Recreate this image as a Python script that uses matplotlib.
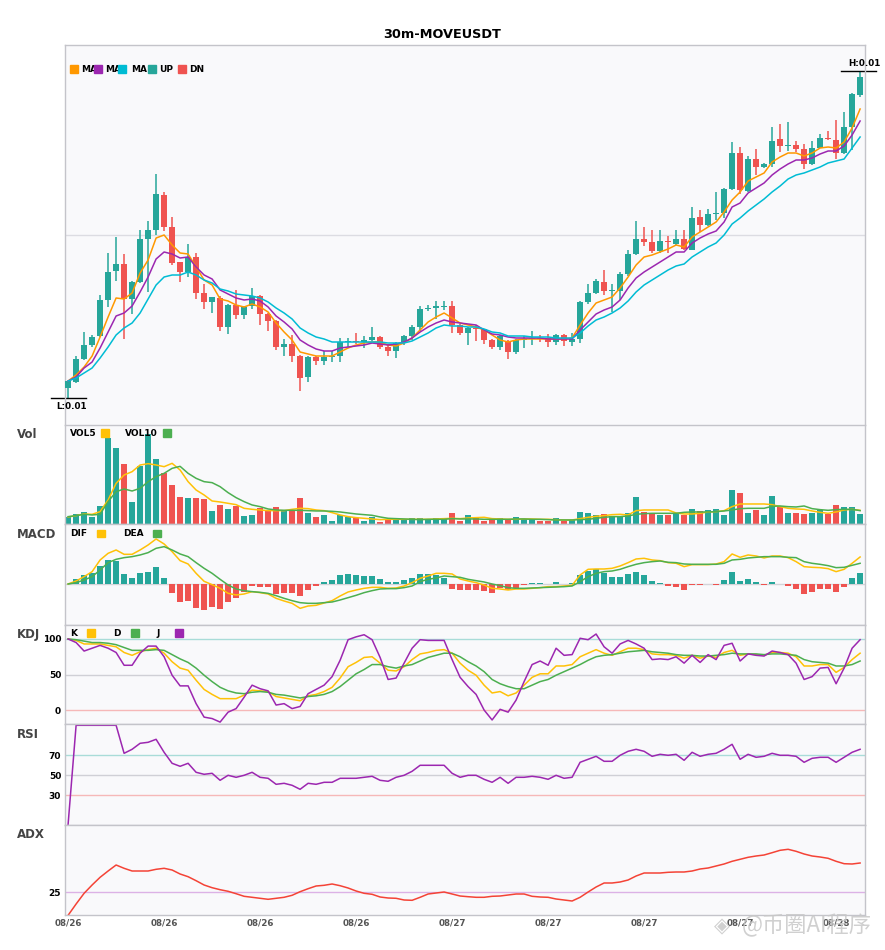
import numpy as np
import matplotlib.pyplot as plt
from matplotlib.patches import Rectangle

# prices in 1e-5 USDT
opens = [1010, 1016, 1039, 1053, 1062, 1098, 1127, 1134, 1099, 1116,
         1159, 1168, 1203, 1171, 1136, 1126, 1141, 1105, 1096, 1100,
         1071, 1093, 1083, 1092, 1102, 1084, 1077, 1051, 1054, 1042,
         1021, 1041, 1037, 1041, 1042, 1056, 1057, 1056, 1058, 1061,
         1051, 1047, 1055, 1062, 1071, 1089, 1090, 1091, 1092, 1073,
         1065, 1070, 1069, 1058, 1051, 1057, 1046, 1058, 1059, 1060,
         1060, 1056, 1063, 1056, 1059, 1096, 1105, 1116, 1107, 1107,
         1124, 1144, 1159, 1156, 1147, 1157, 1154, 1159, 1148, 1181,
         1173, 1184, 1185, 1209, 1245, 1207, 1239, 1231, 1234, 1259,
         1252, 1253, 1249, 1234, 1250, 1260, 1258, 1245, 1271, 1303]
highs = [1017, 1042, 1066, 1063, 1103, 1145, 1161, 1144, 1117, 1168,
         1177, 1224, 1206, 1181, 1136, 1154, 1145, 1114, 1101, 1102,
         1094, 1108, 1092, 1110, 1103, 1085, 1078, 1059, 1063, 1043,
         1042, 1042, 1047, 1047, 1060, 1060, 1065, 1062, 1071, 1062,
         1054, 1056, 1063, 1073, 1092, 1093, 1097, 1097, 1097, 1074,
         1071, 1073, 1069, 1059, 1063, 1058, 1059, 1062, 1067, 1063,
         1064, 1064, 1064, 1065, 1097, 1114, 1119, 1128, 1114, 1126,
         1148, 1177, 1171, 1168, 1168, 1162, 1168, 1168, 1191, 1188,
         1189, 1206, 1210, 1256, 1251, 1242, 1249, 1235, 1271, 1274,
         1276, 1257, 1254, 1257, 1264, 1267, 1278, 1286, 1305, 1327]
lows = [1000, 1015, 1038, 1051, 1061, 1091, 1117, 1059, 1084, 1115,
        1106, 1163, 1167, 1133, 1116, 1121, 1099, 1089, 1085, 1067,
        1064, 1079, 1079, 1089, 1073, 1067, 1048, 1042, 1036, 1007,
        1016, 1033, 1033, 1036, 1036, 1051, 1054, 1050, 1057, 1049,
        1042, 1040, 1053, 1058, 1067, 1087, 1079, 1088, 1065, 1063,
        1053, 1057, 1054, 1049, 1048, 1039, 1044, 1050, 1053, 1056,
        1051, 1053, 1052, 1052, 1055, 1094, 1104, 1103, 1086, 1098,
        1122, 1143, 1152, 1145, 1145, 1145, 1153, 1148, 1148, 1166,
        1172, 1178, 1180, 1208, 1204, 1206, 1223, 1230, 1231, 1246,
        1247, 1246, 1229, 1233, 1250, 1258, 1239, 1244, 1248, 1301]
closes = [1017, 1039, 1053, 1061, 1098, 1126, 1134, 1099, 1116, 1159,
          1168, 1204, 1171, 1135, 1126, 1141, 1105, 1096, 1101, 1071,
          1093, 1083, 1091, 1102, 1084, 1077, 1051, 1054, 1042, 1020,
          1041, 1037, 1041, 1042, 1056, 1057, 1056, 1058, 1061, 1051,
          1047, 1055, 1062, 1071, 1089, 1090, 1092, 1092, 1073, 1065,
          1070, 1069, 1058, 1051, 1062, 1046, 1058, 1059, 1060, 1059,
          1056, 1063, 1057, 1059, 1096, 1105, 1117, 1107, 1108, 1124,
          1144, 1159, 1156, 1147, 1157, 1156, 1159, 1149, 1180, 1173,
          1184, 1185, 1209, 1245, 1208, 1239, 1231, 1234, 1257, 1252,
          1253, 1249, 1234, 1250, 1260, 1259, 1245, 1271, 1304, 1321]

ma_fast = [1017, 1023, 1031, 1042, 1061, 1081, 1100, 1099, 1105, 1125,
           1138, 1160, 1163, 1153, 1145, 1144, 1131, 1118, 1113, 1099,
           1097, 1093, 1091, 1094, 1091, 1086, 1075, 1066, 1058, 1046,
           1044, 1042, 1042, 1042, 1046, 1050, 1053, 1055, 1056, 1056,
           1053, 1052, 1055, 1060, 1068, 1076, 1081, 1085, 1080, 1075,
           1073, 1071, 1068, 1063, 1058, 1056, 1058, 1059, 1059, 1059,
           1059, 1059, 1059, 1060, 1073, 1085, 1095, 1098, 1101, 1110,
           1121, 1133, 1141, 1143, 1146, 1149, 1153, 1151, 1161, 1166,
           1171, 1176, 1186, 1198, 1206, 1217, 1221, 1225, 1236, 1241,
           1245, 1245, 1242, 1245, 1250, 1251, 1250, 1256, 1270, 1289]
ma_mid = [1017, 1021, 1030, 1036, 1050, 1066, 1082, 1085, 1092, 1106,
          1121, 1139, 1146, 1144, 1140, 1141, 1131, 1123, 1119, 1108,
          1104, 1100, 1098, 1099, 1097, 1091, 1082, 1076, 1069, 1058,
          1053, 1049, 1047, 1047, 1050, 1051, 1052, 1053, 1055, 1054,
          1053, 1054, 1056, 1060, 1066, 1071, 1075, 1078, 1076, 1075,
          1074, 1073, 1068, 1064, 1063, 1061, 1060, 1060, 1060, 1060,
          1059, 1059, 1059, 1059, 1068, 1076, 1084, 1088, 1091, 1098,
          1110, 1120, 1126, 1131, 1136, 1141, 1146, 1146, 1155, 1160,
          1164, 1167, 1176, 1191, 1195, 1205, 1210, 1215, 1223, 1229,
          1234, 1238, 1238, 1240, 1244, 1247, 1247, 1252, 1263, 1277]
ma_slow = [1017, 1020, 1025, 1030, 1040, 1051, 1063, 1070, 1075, 1085,
           1099, 1113, 1121, 1123, 1123, 1126, 1123, 1118, 1115, 1109,
           1107, 1104, 1103, 1102, 1100, 1096, 1090, 1085, 1079, 1070,
           1065, 1061, 1059, 1056, 1056, 1056, 1056, 1056, 1056, 1056,
           1055, 1055, 1055, 1057, 1061, 1065, 1070, 1073, 1072, 1072,
           1071, 1071, 1069, 1066, 1065, 1062, 1062, 1062, 1061, 1061,
           1061, 1060, 1060, 1060, 1065, 1072, 1078, 1081, 1085, 1090,
           1097, 1106, 1113, 1118, 1123, 1128, 1132, 1134, 1141, 1146,
           1151, 1155, 1163, 1174, 1180, 1187, 1193, 1199, 1206, 1212,
           1219, 1223, 1225, 1228, 1231, 1235, 1237, 1239, 1250, 1261]

volume = [22, 30, 37, 22, 55, 259, 229, 181, 67, 175,
          271, 196, 154, 118, 82, 79, 79, 76, 40, 58,
          46, 55, 25, 28, 49, 43, 52, 43, 43, 79,
          34, 22, 28, 10, 28, 22, 19, 10, 22, 7,
          16, 13, 13, 19, 19, 13, 19, 18, 34, 10,
          28, 19, 10, 16, 19, 16, 22, 16, 16, 10,
          10, 19, 10, 13, 37, 34, 28, 31, 25, 25,
          34, 82, 37, 34, 28, 28, 31, 28, 46, 40,
          43, 46, 28, 103, 94, 34, 43, 28, 85, 52,
          34, 34, 31, 34, 43, 31, 58, 52, 52, 31]
vol5 = [22, 26, 31, 30, 38, 73, 123, 148, 158, 178,
        182, 178, 173, 183, 163, 128, 103, 88, 70, 67,
        63, 59, 48, 45, 43, 41, 41, 41, 45, 48,
        47, 43, 41, 35, 28, 23, 20, 18, 16, 14,
        15, 15, 15, 15, 15, 15, 16, 17, 18, 17,
        19, 20, 21, 17, 16, 15, 15, 16, 16, 15,
        15, 14, 13, 13, 17, 21, 24, 26, 29, 30,
        28, 41, 43, 43, 43, 43, 34, 31, 31, 33,
        37, 38, 41, 53, 61, 61, 61, 61, 59, 53,
        48, 46, 45, 40, 36, 33, 37, 43, 45, 42]
vol10 = [23, 26, 30, 28, 30, 68, 98, 106, 100, 108,
         128, 143, 153, 168, 174, 153, 138, 128, 125, 113,
         95, 80, 68, 58, 53, 46, 43, 42, 42, 42,
         41, 40, 40, 39, 37, 34, 31, 29, 27, 22,
         18, 17, 16, 15, 14, 15, 15, 15, 17, 16,
         16, 16, 15, 15, 15, 15, 16, 16, 15, 15,
         14, 13, 13, 13, 14, 15, 18, 21, 23, 23,
         25, 30, 32, 33, 33, 33, 33, 36, 37, 37,
         37, 38, 40, 43, 47, 48, 48, 48, 54, 55,
         53, 52, 55, 47, 44, 42, 44, 45, 45, 41]

macd_hist = [0, 15, 27, 33, 54, 72, 69, 30, 18, 33,
             36, 51, 18, -27, -54, -51, -72, -78, -69, -75,
             -54, -42, -24, -6, -9, -9, -30, -27, -27, -36,
             -18, -6, 6, 12, 27, 30, 27, 24, 24, 15,
             6, 6, 12, 18, 30, 30, 27, 18, -15, -18,
             -18, -18, -21, -27, -12, -18, -12, -3, 3, 3,
             1, 6, -1, 3, 27, 39, 45, 33, 21, 21,
             30, 36, 27, 9, 3, -6, -9, -18, -3, -3,
             1, -3, 12, 36, 9, 15, 6, -3, 6, 1,
             -6, -15, -30, -24, -15, -15, -24, -9, 18, 33]
dif = [0, 9, 22, 37, 72, 92, 102, 89, 89, 102,
       117, 135, 120, 97, 70, 60, 32, 8, -2, -13,
       -28, -33, -30, -23, -26, -30, -43, -51, -58, -73,
       -66, -64, -57, -50, -36, -24, -18, -13, -10, -10,
       -13, -12, -6, 4, 17, 24, 32, 32, 30, 15,
       9, 4, -3, -13, -15, -18, -15, -15, -13, -11,
       -8, -8, -6, -4, 27, 44, 45, 45, 47, 54,
       64, 75, 77, 72, 70, 64, 62, 52, 58, 58,
       58, 60, 67, 90, 80, 87, 84, 78, 84, 84,
       79, 67, 52, 50, 49, 46, 37, 44, 62, 81]
dea = [0, 4, 12, 22, 42, 64, 74, 79, 82, 87,
       94, 107, 112, 102, 90, 82, 64, 47, 32, 14,
       -3, -15, -20, -23, -25, -28, -35, -43, -50, -56,
       -58, -58, -56, -54, -48, -41, -34, -26, -20, -15,
       -14, -14, -11, -6, 7, 14, 18, 24, 22, 20,
       14, 10, 6, 0, -5, -11, -13, -13, -12, -11,
       -10, -9, -8, -6, 7, 22, 32, 37, 39, 44,
       52, 59, 64, 67, 69, 65, 64, 60, 59, 59,
       59, 59, 62, 72, 74, 78, 80, 82, 82, 82,
       80, 79, 67, 62, 59, 55, 49, 50, 56, 62]

k_line = [100, 98, 93, 93, 93, 91, 89, 81, 77, 82,
          85, 87, 80, 68, 59, 56, 42, 29, 22, 16,
          16, 16, 21, 28, 27, 26, 19, 17, 15, 13,
          20, 22, 26, 32, 45, 61, 67, 74, 75, 66,
          56, 55, 61, 71, 79, 81, 84, 85, 80, 66,
          56, 49, 35, 24, 26, 20, 24, 35, 46, 51,
          51, 62, 62, 64, 75, 80, 85, 80, 77, 82,
          87, 87, 85, 79, 78, 78, 77, 73, 77, 73,
          76, 74, 81, 84, 77, 79, 78, 77, 81, 81,
          80, 75, 62, 62, 64, 64, 53, 60, 71, 80]
d_line = [100, 99, 97, 95, 95, 94, 92, 88, 84, 84,
          84, 85, 84, 78, 72, 67, 59, 49, 40, 32,
          27, 24, 23, 25, 26, 25, 22, 21, 19, 17,
          19, 20, 22, 26, 33, 42, 51, 57, 64, 64,
          61, 59, 62, 64, 69, 74, 77, 80, 80, 75,
          68, 62, 54, 43, 37, 33, 30, 30, 35, 40,
          43, 49, 54, 59, 64, 70, 75, 77, 78, 80,
          82, 83, 84, 82, 81, 80, 78, 77, 77, 76,
          76, 77, 78, 80, 79, 79, 79, 78, 79, 79,
          78, 77, 71, 68, 67, 66, 62, 62, 64, 69]
j_line = [100, 95, 83, 87, 91, 87, 81, 63, 63, 80,
          90, 90, 75, 49, 34, 34, 9, -10, -12, -17,
          -3, 2, 18, 35, 30, 27, 7, 9, 2, 5,
          23, 29, 35, 47, 70, 99, 103, 106, 99, 74,
          43, 45, 66, 87, 99, 98, 98, 98, 71, 46,
          33, 22, 0, -14, 1, -3, 14, 40, 64, 69,
          63, 87, 77, 78, 101, 99, 107, 89, 80, 93,
          98, 93, 87, 71, 72, 71, 75, 66, 77, 67,
          78, 71, 91, 94, 69, 79, 77, 76, 83, 81,
          78, 66, 43, 47, 59, 60, 37, 59, 87, 99]

rsi = [1, 100, 100, 100, 100, 100, 100, 72, 76, 82,
       83, 86, 73, 62, 59, 62, 53, 51, 52, 45,
       50, 48, 50, 53, 48, 47, 41, 42, 40, 36,
       42, 41, 43, 43, 47, 47, 47, 48, 49, 45,
       44, 48, 50, 54, 60, 60, 60, 60, 52, 48,
       50, 50, 46, 43, 48, 42, 48, 48, 49, 48,
       46, 50, 47, 48, 63, 66, 69, 64, 64, 70,
       74, 76, 74, 69, 71, 70, 71, 65, 73, 69,
       71, 72, 76, 81, 66, 71, 68, 69, 72, 70,
       70, 69, 63, 67, 68, 68, 63, 68, 73, 76]

adx = [1.7, 13, 23.7, 32, 39.7, 46, 52, 48.7, 46, 46,
       46, 47.7, 48.7, 47, 43, 40.3, 36.3, 32, 29.3, 27.3,
       25.7, 23.3, 20.7, 19.7, 18.7, 17.7, 18.7, 19.7, 21.7, 25.3,
       28.3, 31, 31.7, 33, 31.3, 29, 26, 23.7, 22.7, 20,
       19, 18.7, 17, 16.7, 19.7, 23, 24, 25, 23, 21,
       20.3, 19.7, 19.7, 20.7, 21, 22, 23, 23, 20.7, 20,
       19.7, 18, 17, 16, 19.7, 25, 30, 34, 34, 35,
       37, 41, 44, 44, 44, 44.7, 45, 45, 46, 48,
       49, 51, 53, 55.7, 57.7, 59.7, 61, 62, 64.3, 66.7,
       67.7, 65.7, 63, 61, 60, 58.7, 55.7, 53.3, 53, 54]

tick_pos = [0, 12, 24, 36, 48, 60, 72, 84, 96]
tick_lab = ["08/26", "08/26", "08/26", "08/26", "08/27", "08/27", "08/27", "08/27", "08/28"]

UP, DN = "#26a69a", "#ef5350"
BG, EDGE = "#f9f9fb", "#c4c4ca"
W, H = 885, 950

o, h, l, c = (np.array(a, float) for a in (opens, highs, lows, closes))
x = np.arange(len(c))
up = c >= o
cols = np.where(up, UP, DN)

fig = plt.figure(figsize=(W / 100, H / 100), dpi=100)


def panel(top, bottom):
    ax = fig.add_axes([65.3 / W, 1 - bottom / H, 800 / W, (bottom - top) / H])
    ax.set_facecolor(BG)
    ax.set_xlim(-0.35, 99.65)
    ax.set_xticks([])
    ax.set_yticks([])
    for s in ax.spines.values():
        s.set_color(EDGE)
        s.set_linewidth(1)
    return ax


def fpt(px, py):
    return px / W, 1 - py / H


def legend(items, py, size=6.5):
    # items: (text x, label, square x, colour)
    for tx, lab, sx, col in items:
        fig.text(*fpt(tx, py), lab, fontsize=size, fontweight="bold",
                 va="center", ha="left", zorder=3)
        fig.add_artist(Rectangle(fpt(sx, py + 3.8), 7.6 / W, 7.6 / H,
                                 transform=fig.transFigure, color=col, zorder=4))


# main candles
ax = panel(45.3, 424.7)
ax.set_ylim(973.3, 1352.7)
ax.axhline((973.3 + 1352.7) / 2, color="#dcdce2", lw=1, zorder=0)
ax.vlines(x, l, h, color=cols, lw=1.1, zorder=2)
ax.bar(x, np.maximum(np.abs(c - o), 1.0), bottom=np.minimum(o, c), width=0.75,
       color=cols, zorder=3)
ax.plot(x, ma_fast, color="#ff9800", lw=1.1, zorder=4)
ax.plot(x, ma_mid, color="#9c27b0", lw=1.1, zorder=4)
ax.plot(x, ma_slow, color="#00bcd4", lw=1.1, zorder=4)
ih, il = int(np.argmax(h)), int(np.argmin(l))
ax.plot([ih - 2.45, ih + 1.95], [h[ih], h[ih]], color="black", lw=1, clip_on=False)
ax.text(ih + 0.5, h[ih] + 3, "H:%.2f" % (h[ih] * 1e-5), ha="center", va="bottom",
        fontsize=6.3, fontweight="bold", clip_on=False)
ax.plot([il - 2.15, il + 2.2], [l[il], l[il]], color="black", lw=1, clip_on=False)
ax.text(il + 0.45, l[il] - 4, "L:%.2f" % (l[il] * 1e-5), ha="center", va="top",
        fontsize=6.3, fontweight="bold", clip_on=False)
ax.spines["bottom"].set_visible(False)
fig.text(0.5, 1 - 34.3 / H, "30m-MOVEUSDT", ha="center", va="center",
         fontsize=9.3, fontweight="bold")
legend([(81, "MA", 70, "#ff9800"), (105, "MA", 94.3, "#9c27b0"),
        (131, "MA", 118.3, "#00bcd4"), (159, "UP", 148.3, UP),
        (189, "DN", 178.3, DN)], 69)

# volume
av = panel(424.7, 524.3)
av.set_ylim(0, 299)
av.bar(x, volume, width=0.75, color=cols)
av.plot(x, vol5, color="#ffc107", lw=1.1)
av.plot(x, vol10, color="#4caf50", lw=1.1)
legend([(70, "VOL5", 101, "#ffc107"), (125.3, "VOL10", 163, "#4caf50")], 433)

# macd
am = panel(524.3, 624.5)
am.set_ylim(-121.5, 179)
am.axhline(0, color="#d4d4d8", lw=1, zorder=0)
mh = np.array(macd_hist, float)
am.bar(x, mh, width=0.75, color=np.where(mh >= 0, UP, DN))
am.plot(x, dif, color="#ffc107", lw=1.1)
am.plot(x, dea, color="#4caf50", lw=1.1)
legend([(70, "DIF", 97, "#ffc107"), (123, "DEA", 153, "#4caf50")], 533.5)

# kdj
ak = panel(624.5, 724.3)
ak.set_ylim(-20.1, 120.4)
ak.axhline(100, color="#a9dcd8", lw=1, zorder=0)
ak.axhline(50, color="#d0d0d6", lw=1, zorder=0)
ak.axhline(0, color="#f6b8b8", lw=1, zorder=0)
ak.plot(x, k_line, color="#ffc107", lw=1.1)
ak.plot(x, d_line, color="#4caf50", lw=1.1)
ak.plot(x, j_line, color="#9c27b0", lw=1.1)
ak.set_yticks([0, 50, 100])
legend([(70, "K", 87, "#ffc107"), (113.3, "D", 131, "#4caf50"),
        (156.7, "J", 175, "#9c27b0")], 633)

# rsi
ar = panel(724.3, 824.5)
ar.set_ylim(0.8, 101)
ar.axhline(70, color="#a9dcd8", lw=1, zorder=0)
ar.axhline(50, color="#d0d0d6", lw=1, zorder=0)
ar.axhline(30, color="#f6b8b8", lw=1, zorder=0)
ar.plot(x, rsi, color="#9c27b0", lw=1.1)
ar.set_yticks([30, 50, 70])

# adx
aa = panel(824.5, 915.3)
aa.set_ylim(1.7, 92.5)
aa.axhline(25, color="#dcb2e6", lw=1, zorder=0)
aa.plot(x, adx, color="#f44336", lw=1.1)
aa.set_yticks([25])
aa.set_xticks(tick_pos)
aa.set_xticklabels(tick_lab)
aa.tick_params(axis="x", length=0, pad=2.5, labelsize=6.3, labelcolor="#555555")
for t in aa.get_xticklabels():
    t.set_fontweight("bold")

for a in (ak, ar, aa):
    a.tick_params(axis="y", length=0, pad=3, labelsize=6.5)
    for t in a.get_yticklabels():
        t.set_fontweight("bold")

for name, py in (("Vol", 434.5), ("MACD", 534.3), ("KDJ", 634.3),
                 ("RSI", 734.3), ("ADX", 834.7)):
    fig.text(*fpt(17.3, py), name, fontsize=8.5, fontweight="bold",
             color="#444444", va="center", ha="left")

# watermark
fig.text(*fpt(722, 926), "\u25c8", fontsize=15, color="#d0d0d0", ha="center",
         va="center", zorder=10)
fig.text(*fpt(742, 926), "@币圈AI程序", fontsize=16, color="#c8c8c8", alpha=0.85,
         va="center", ha="left", zorder=10,
         family=["Noto Sans CJK SC", "DejaVu Sans"])

fig.savefig("out.png", dpi=100, facecolor="white")
